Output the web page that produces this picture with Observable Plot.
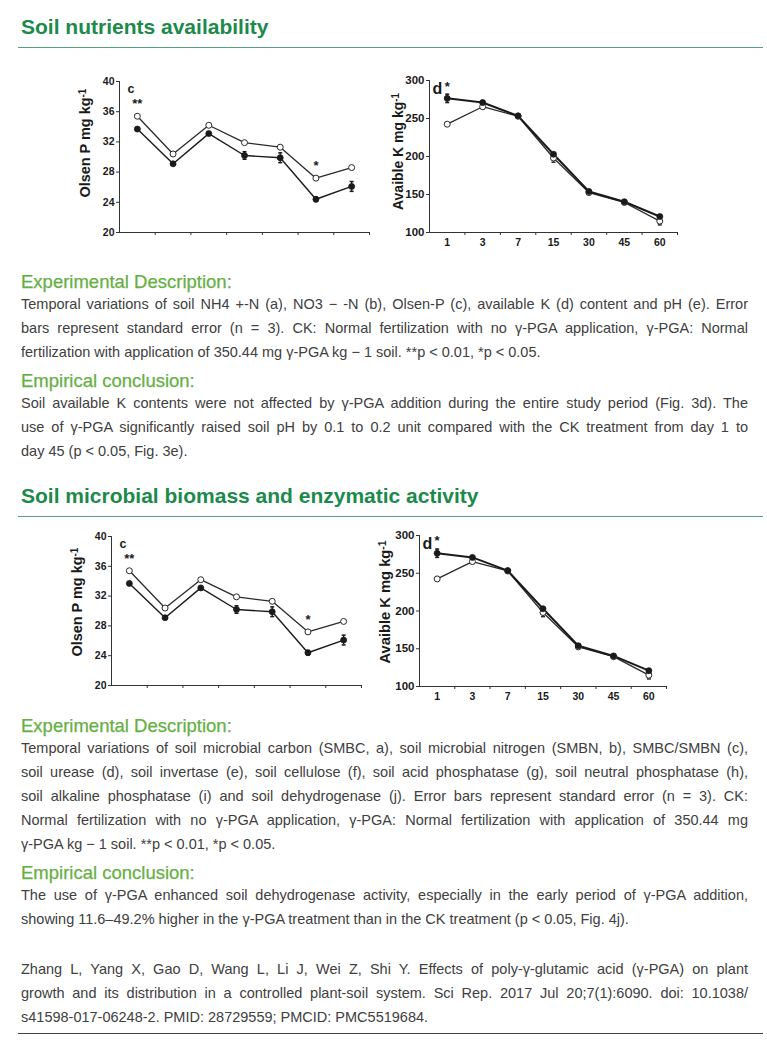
<!DOCTYPE html>
<html><head><meta charset="utf-8">
<script src="https://cdn.jsdelivr.net/npm/d3@7"></script>
<script src="https://cdn.jsdelivr.net/npm/@observablehq/plot@0.6"></script>
<style>
html,body{margin:0;padding:0;background:#fff;}
#page{position:relative;width:767px;height:1047px;overflow:hidden;font-family:"Liberation Sans",Arial,sans-serif;}
.title{position:absolute;left:21px;font-weight:bold;color:#1b8a4b;font-size:21px;line-height:28px;white-space:nowrap;}
.rule{position:absolute;left:18px;width:745px;height:0;border-top:1.5px solid #5a9e80;}
.rule.dark{border-top:1.5px solid #444;}
.head{position:absolute;left:21px;color:#66b043;font-size:18.5px;line-height:24px;white-space:nowrap;-webkit-text-stroke:0.25px #66b043;}
.para{position:absolute;left:21px;width:727px;color:#404040;font-size:14.5px;line-height:24px;}
.para div{text-align:justify;text-align-last:justify;}
.para div.last{text-align-last:left;}
.chart{position:absolute;}
</style></head>
<body>
<div id="page">
  <div class="title" style="top:13px">Soil nutrients availability</div>
  <div class="rule" style="top:47px"></div>

  <div class="head" style="top:270px">Experimental Description:</div>
  <div class="para" style="top:292px">
    <div>Temporal variations of soil NH4 +-N (a), NO3 − -N (b), Olsen-P (c), available K (d) content and pH (e). Error</div>
    <div>bars represent standard error (n = 3). CK: Normal fertilization with no γ-PGA application, γ-PGA: Normal</div>
    <div class="last">fertilization with application of 350.44 mg γ-PGA kg − 1 soil. **p &lt; 0.01, *p &lt; 0.05.</div>
  </div>
  <div class="head" style="top:369px">Empirical conclusion:</div>
  <div class="para" style="top:391px">
    <div>Soil available K contents were not affected by γ-PGA addition during the entire study period (Fig. 3d). The</div>
    <div>use of γ-PGA significantly raised soil pH by 0.1 to 0.2 unit compared with the CK treatment from day 1 to</div>
    <div class="last">day 45 (p &lt; 0.05, Fig. 3e).</div>
  </div>

  <div class="title" style="top:482px">Soil microbial biomass and enzymatic activity</div>
  <div class="rule" style="top:516px"></div>

  <div class="head" style="top:714px">Experimental Description:</div>
  <div class="para" style="top:736px">
    <div>Temporal variations of soil microbial carbon (SMBC, a), soil microbial nitrogen (SMBN, b), SMBC/SMBN (c),</div>
    <div>soil urease (d), soil invertase (e), soil cellulose (f), soil acid phosphatase (g), soil neutral phosphatase (h),</div>
    <div>soil alkaline phosphatase (i) and soil dehydrogenase (j). Error bars represent standard error (n = 3). CK:</div>
    <div>Normal fertilization with no γ-PGA application, γ-PGA: Normal fertilization with application of 350.44 mg</div>
    <div class="last">γ-PGA kg − 1 soil. **p &lt; 0.01, *p &lt; 0.05.</div>
  </div>
  <div class="head" style="top:861px">Empirical conclusion:</div>
  <div class="para" style="top:883px">
    <div>The use of γ-PGA enhanced soil dehydrogenase activity, especially in the early period of γ-PGA addition,</div>
    <div class="last">showing 11.6–49.2% higher in the γ-PGA treatment than in the CK treatment (p &lt; 0.05, Fig. 4j).</div>
  </div>

  <div class="para" style="top:957px">
    <div>Zhang L, Yang X, Gao D, Wang L, Li J, Wei Z, Shi Y. Effects of poly-γ-glutamic acid (γ-PGA) on plant</div>
    <div>growth and its distribution in a controlled plant-soil system. Sci Rep. 2017 Jul 20;7(1):6090. doi: 10.1038/</div>
    <div class="last">s41598-017-06248-2. PMID: 28729559; PMCID: PMC5519684.</div>
  </div>
  <div class="rule dark" style="top:1033px"></div>
</div>
<script>
// ---- data ----
const days = ["1", "3", "7", "15", "30", "45", "60"];

const olsenTicks = [20, 24, 28, 32, 36, 40];
const olsenCK    = [33.7, 29.1, 33.1, 30.2, 29.9, 24.4, 26.1];
const olsenCKse  = [0.15, 0.15, 0.15, 0.5, 0.65, 0.3, 0.65];
const olsenPGA   = [35.4, 30.4, 34.2, 31.9, 31.3, 27.2, 28.6];
const olsenPGAse = [0.15, 0.15, 0.15, 0.15, 0.2, 0.15, 0.15];
const olsenSig   = ["**", "", "", "", "", "*", ""];

const kTicks = [100, 150, 200, 250, 300];
const kCK    = [276.5, 271, 253.5, 203, 154, 140.5, 121];
const kCKse  = [5.5, 2, 2, 2, 2, 2, 2];
const kPGA   = [242.5, 265.5, 253, 198, 152.5, 139.5, 115];
const kPGAse = [1.5, 2.5, 1.5, 5.5, 2, 2, 5];
const kSig   = ["*", "", "", "", "", "", ""];

// fit each justified paragraph line into the column
document.querySelectorAll(".para div").forEach(div => {
  const span = document.createElement("span");
  span.textContent = div.textContent;
  span.style.whiteSpace = "nowrap";
  span.style.position = "absolute";
  span.style.visibility = "hidden";
  div.parentNode.appendChild(span);
  const w = span.getBoundingClientRect().width;
  span.remove();
  const max = 724;
  if (w > max) div.style.letterSpacing = ((max - w) / div.textContent.length) + "px";
});

const capSymbol = {draw(ctx, size) { const r = Math.sqrt(size / Math.PI); ctx.moveTo(-r, 0); ctx.lineTo(r, 0); }};

function panel(o) {
  const ml = 60, mt = 20, mr = 12, mb = 26;
  const rows = days.map((d, i) => ({i, day: d, ck: o.ck[i], ckSe: o.ckSe[i], pga: o.pga[i], pgaSe: o.pgaSe[i], sig: o.sig[i]}));
  const xDomain = [-0.5, days.length - 0.5];
  const yDomain = [o.ticks[0], o.ticks[o.ticks.length - 1]];
  const ink = "#1a1a1a";
  const svg = Plot.plot({
    width: o.w + ml + mr, height: o.h + mt + mb,
    marginLeft: ml, marginTop: mt, marginRight: mr, marginBottom: mb,
    style: {fontFamily: "'Liberation Sans', Arial, sans-serif", fontWeight: "bold", fontSize: "10.5px", color: ink, background: "transparent", overflow: "visible"},
    x: {type: "linear", domain: xDomain, axis: null},
    y: {domain: yDomain, axis: null},
    marks: [
      Plot.ruleY(yDomain.slice(0, 1), {stroke: "#333", strokeWidth: 1}),
      Plot.ruleX(xDomain.slice(0, 1), {stroke: "#333", strokeWidth: 1}),
      Plot.axisY({ticks: o.ticks, tickSize: 3, tickPadding: 2, label: null, stroke: "#333", fontSize: o.yTickFont}),
      Plot.axisX({ticks: rows.map(d => d.i + 0.5), tickSize: 3, tickFormat: () => "", label: null, stroke: "#333"}),
      o.xLabels ? Plot.axisX({ticks: rows.map(d => d.i), tickSize: 0, tickPadding: 6, tickFormat: i => days[i], label: null, fontSize: 10.5}) : null,
      Plot.line(rows, {x: "i", y: "pga", stroke: "#2a2a2a", strokeWidth: 1.3}),
      Plot.line(rows, {x: "i", y: "ck", stroke: ink, strokeWidth: o.ckWidth}),
      Plot.ruleX(rows, {x: "i", y1: d => d.pga - d.pgaSe, y2: d => d.pga + d.pgaSe, stroke: "#2a2a2a", strokeWidth: 1}),
      Plot.dot(rows, {x: "i", y: d => d.pga - d.pgaSe, symbol: capSymbol, r: 2, stroke: "#2a2a2a", fill: "none"}),
      Plot.dot(rows, {x: "i", y: d => d.pga + d.pgaSe, symbol: capSymbol, r: 2, stroke: "#2a2a2a", fill: "none"}),
      Plot.ruleX(rows, {x: "i", y1: d => d.ck - d.ckSe, y2: d => d.ck + d.ckSe, stroke: ink, strokeWidth: 1.3}),
      Plot.dot(rows, {x: "i", y: d => d.ck - d.ckSe, symbol: capSymbol, r: 2, stroke: ink, fill: "none"}),
      Plot.dot(rows, {x: "i", y: d => d.ck + d.ckSe, symbol: capSymbol, r: 2, stroke: ink, fill: "none"}),
      Plot.dot(rows, {x: "i", y: "pga", r: 3, fill: "white", stroke: "#2a2a2a", strokeWidth: 1}),
      Plot.dot(rows, {x: "i", y: "ck", r: 3, fill: ink, stroke: ink, strokeWidth: 0.8}),
      Plot.text(rows.filter(d => d.sig), {x: "i", y: o.sigOn, text: "sig", dy: -12, fontSize: 13, fontWeight: "bold", fill: ink}),
      Plot.text([o.letter], {frameAnchor: "top-left", text: d => d, dx: o.letterDx, dy: o.letterDy, fontSize: o.letterSize, fontWeight: "bold", fill: ink, textAnchor: "start", lineAnchor: "middle"}),
      Plot.text([o.ylab], {frameAnchor: "left", text: d => d, rotate: -90, textAnchor: "middle", dx: o.ylabDx, dy: o.ylabDy, fontSize: 15.5, fontWeight: "bold", fill: ink})
    ]
  });
  d3.select(svg).selectAll("text")
    .filter(function() { return this.textContent === o.ylab; })
    .attr("textLength", o.ylabLen).attr("lengthAdjust", "spacingAndGlyphs")
    .append("tspan").attr("dy", "-0.45em").attr("font-size", "0.7em").text("-1");
  svg.classList.add("chart");
  svg.style.left = (o.left - ml) + "px";
  svg.style.top = (o.top - mt) + "px";
  document.getElementById("page").appendChild(svg);
}

const olsen = {ck: olsenCK, ckSe: olsenCKse, pga: olsenPGA, pgaSe: olsenPGAse, sig: olsenSig, sigOn: "pga", ticks: olsenTicks,
  letter: "c", letterSize: 12.5, ylab: "Olsen P mg kg", xLabels: false, ckWidth: 1.4, yTickFont: 10.5};
const potK = {ck: kCK, ckSe: kCKse, pga: kPGA, pgaSe: kPGAse, sig: kSig, sigOn: "ck", ticks: kTicks,
  letter: "d", letterSize: 16, ylab: "Avaible K mg kg", xLabels: true, ckWidth: 2, yTickFont: 11.5};

panel({...olsen, left: 119, top: 81, w: 250, h: 151, letterDx: 8, letterDy: 7, ylabDx: -34, ylabDy: -14, ylabLen: 109});
panel({...potK, left: 429, top: 80, w: 248, h: 152, letterDx: 3, letterDy: 8, ylabDx: -31, ylabDy: -5, ylabLen: 117});
panel({...olsen, left: 111, top: 536, w: 250, h: 149, letterDx: 8, letterDy: 7, ylabDx: -34, ylabDy: -9, ylabLen: 109});
panel({...potK, left: 419, top: 535, w: 247, h: 151, letterDx: 3, letterDy: 8, ylabDx: -34, ylabDy: -9, ylabLen: 123});
</script>
</body></html>
